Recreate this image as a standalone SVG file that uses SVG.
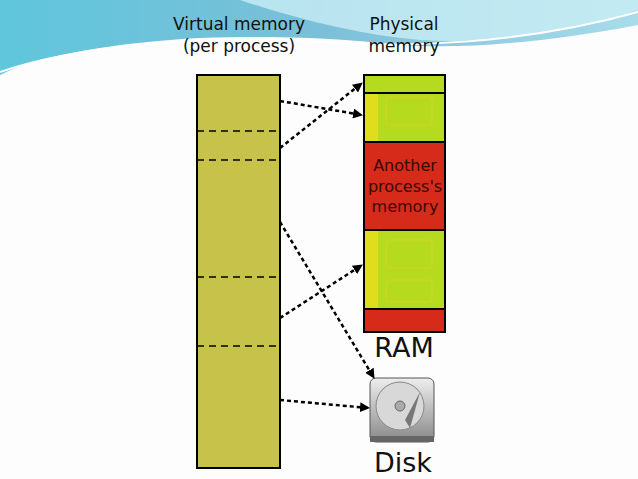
<svg xmlns="http://www.w3.org/2000/svg" width="638" height="479" viewBox="0 0 638 479">
<defs>
<style>
.t{font-family:"DejaVu Sans",sans-serif;fill:#111}
.c{stroke:#000;stroke-width:2.5;stroke-dasharray:4,3;fill:none}
.d{stroke:#000;stroke-width:1.5;stroke-dasharray:7,5}
</style>
<marker id="a" viewBox="0 0 10 10" refX="9" refY="5" markerWidth="4" markerHeight="4" orient="auto"><path d="M0,0L10,5L0,10z" fill="#000"/></marker>
<linearGradient id="sky" x1="0" y1="0" x2="1" y2="0"><stop offset="0" stop-color="#5fc6dc"/><stop offset="0.5" stop-color="#7bbfd8"/><stop offset="1" stop-color="#a8dcea"/></linearGradient>
<linearGradient id="disk" x1="0" y1="0" x2="0" y2="1"><stop offset="0" stop-color="#eee"/><stop offset="1" stop-color="#888"/></linearGradient>
</defs>
<rect width="638" height="479" fill="#fdfdfd"/>
<path d="M0,0H638V25C560,40 470,50 400,45C350,40 300,35 200,38C120,42 40,55 0,75Z" fill="url(#sky)"/>
<path d="M240,0C300,20 360,35 420,40C500,45 580,30 638,10V0Z" fill="#c9eef5" opacity="0.8"/>
<path d="M0,72C80,45 200,35 320,42C400,48 520,45 638,12" stroke="#fff" stroke-width="2" fill="none"/>
<g id="labels">
<text class="t" x="239" y="30" font-size="17" text-anchor="middle">Virtual memory</text>
<text class="t" x="239" y="52" font-size="17" text-anchor="middle">(per process)</text>
<text class="t" x="404" y="30" font-size="17" text-anchor="middle">Physical</text>
<text class="t" x="404" y="52" font-size="17" text-anchor="middle">memory</text>
</g>
<g id="virtual">
<rect x="197" y="75" width="83" height="393" fill="#c6c24a" stroke="#000" stroke-width="2"/>
<line class="d" x1="197" y1="131" x2="280" y2="131"/>
<line class="d" x1="197" y1="160" x2="280" y2="160"/>
<line class="d" x1="197" y1="277" x2="280" y2="277"/>
<line class="d" x1="197" y1="346" x2="280" y2="346"/>
</g>
<g id="ram">
<rect x="364" y="75" width="81" height="18" fill="#b5da1e"/>
<rect x="364" y="93" width="81" height="49" fill="#b5da1e"/>
<rect x="364" y="93" width="14" height="49" fill="#dede1c"/>
<rect x="364" y="142" width="81" height="88" fill="#d62a1a"/>
<rect x="364" y="230" width="81" height="79" fill="#b5da1e"/>
<rect x="364" y="230" width="14" height="79" fill="#dede1c"/>
<rect x="364" y="309" width="81" height="23" fill="#d62a1a"/>
<g fill="none" stroke="#d8d820" stroke-width="1" opacity="0.8"><rect x="386" y="97" width="46" height="28" rx="3"/><rect x="386" y="240" width="46" height="28" rx="3"/><rect x="386" y="280" width="46" height="22" rx="3"/></g>
<g stroke="#000" stroke-width="2" fill="none"><rect x="364" y="75" width="81" height="257"/><line x1="364" y1="93" x2="445" y2="93"/><line x1="364" y1="142" x2="445" y2="142"/><line x1="364" y1="230" x2="445" y2="230"/><line x1="364" y1="309" x2="445" y2="309"/></g>
<text class="t" x="405" y="171" font-size="16" text-anchor="middle" style="fill:#3a0805">Another</text>
<text class="t" x="405" y="192" font-size="16" text-anchor="middle" style="fill:#3a0805">process's</text>
<text class="t" x="405" y="212" font-size="16" text-anchor="middle" style="fill:#3a0805">memory</text>
<text class="t" x="404" y="357" font-size="27" text-anchor="middle">RAM</text>
</g>
<g id="disk">
<rect x="370" y="378" width="64" height="64" rx="6" fill="url(#disk)" stroke="#555"/>
<circle cx="400" cy="406" r="24" fill="#d8d8d8" stroke="#888"/>
<circle cx="400" cy="406" r="5" fill="#aaa" stroke="#666"/>
<path d="M420,392L405,420L410,428Z" fill="#777"/>
<rect x="370" y="436" width="64" height="6" fill="#666"/>
<text class="t" x="403" y="472" font-size="27" text-anchor="middle">Disk</text>
</g>
<g id="connectors" class="c">
<path d="M280,101L362,115" marker-end="url(#a)"/>
<path d="M280,148L362,83" marker-end="url(#a)"/>
<path d="M280,318L362,265" marker-end="url(#a)"/>
<path d="M280,222L374,378" marker-end="url(#a)"/>
<path d="M280,400L369,408" marker-end="url(#a)"/>
</g>
</svg>
